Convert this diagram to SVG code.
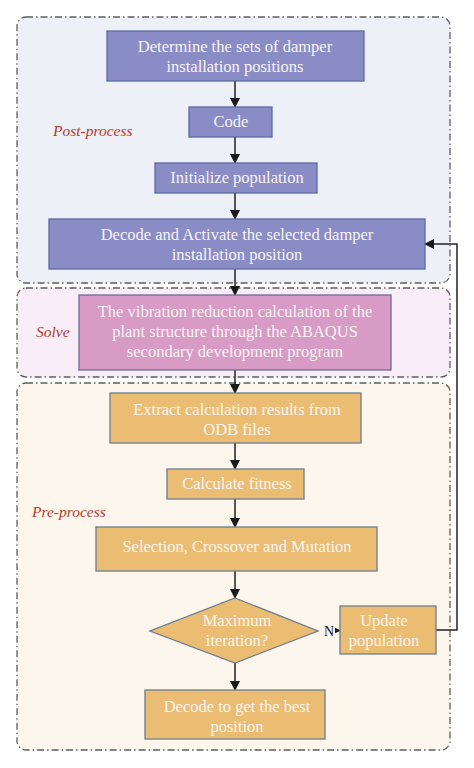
<svg xmlns="http://www.w3.org/2000/svg" width="474" height="768" viewBox="0 0 474 768">
<defs>
<style>
.region{stroke:#5e5e5e;stroke-width:1.3;stroke-dasharray:7 3 1.5 3;}
.purple{fill:#8a8cc6;stroke:#5b6aa3;stroke-width:1.3;}
.pink{fill:#d79bc5;stroke:#6e6b9a;stroke-width:1.3;}
.orange{fill:#ebbd72;stroke:#6c7d8e;stroke-width:1.3;}
.t{font-family:"Liberation Serif","Times New Roman",serif;font-size:16.5px;fill:#f7f4f2;text-anchor:middle;}
.lab{font-family:"Liberation Serif","Times New Roman",serif;font-size:15.5px;font-style:italic;fill:#b33a2c;}
.conn{stroke:#222;stroke-width:1.5;fill:none;}
</style>
<marker id="ah" markerWidth="10" markerHeight="10" refX="9" refY="5" orient="auto" markerUnits="userSpaceOnUse">
<path d="M0,0 L10,5 L0,10 z" fill="#1a1a1a"/>
</marker>
<marker id="ahs" markerWidth="6" markerHeight="6" refX="5.5" refY="3" orient="auto" markerUnits="userSpaceOnUse">
<path d="M0,0 L6,3 L0,6 z" fill="#1a1a1a"/>
</marker>
</defs>
<rect width="474" height="768" fill="#ffffff"/>
<g id="regions">
<rect class="region" x="17" y="17" width="433" height="266" rx="9" fill="#eef0f8"/>
<rect class="region" x="17" y="288" width="433" height="89" rx="9" fill="#f9eef7"/>
<rect class="region" x="17" y="383" width="433" height="367" rx="9" fill="#fcf6ec"/>
</g>
<g id="labels">
<text class="lab" x="53" y="136">Post-process</text>
<text class="lab" x="36" y="337">Solve</text>
<text class="lab" x="32" y="517">Pre-process</text>
</g>
<g id="connectors">
<line class="conn" x1="235" y1="81" x2="235" y2="107" marker-end="url(#ah)"/>
<line class="conn" x1="235" y1="137" x2="235" y2="163" marker-end="url(#ah)"/>
<line class="conn" x1="235" y1="193" x2="235" y2="219" marker-end="url(#ah)"/>
<line class="conn" x1="235" y1="269" x2="235" y2="295" marker-end="url(#ah)"/>
<line class="conn" x1="235" y1="370" x2="235" y2="393" marker-end="url(#ah)"/>
<line class="conn" x1="235" y1="443" x2="235" y2="469" marker-end="url(#ah)"/>
<line class="conn" x1="235" y1="499" x2="235" y2="527" marker-end="url(#ah)"/>
<line class="conn" x1="235" y1="571" x2="235" y2="598" marker-end="url(#ah)"/>
<line class="conn" x1="235" y1="663" x2="235" y2="690" marker-end="url(#ah)"/>
<line class="conn" x1="335" y1="630.5" x2="340" y2="630.5" stroke-width="1" marker-end="url(#ahs)"/>
<polyline class="conn" stroke="#444" points="436,630 457,630 457,244 425,244" marker-end="url(#ah)"/>
<text x="329" y="636" font-family="Liberation Serif,serif" font-size="14" fill="#111" text-anchor="middle">N</text>
</g>
<g id="n1"><rect class="purple" x="107" y="31" width="257" height="50"/><text class="t" x="235" y="52">Determine the sets of damper</text><text class="t" x="235" y="72">installation positions</text></g>
<g id="n2"><rect class="purple" x="189" y="107" width="83" height="30"/><text class="t" x="231" y="127">Code</text></g>
<g id="n3"><rect class="purple" x="155" y="163" width="162" height="30"/><text class="t" x="237" y="183">Initialize population</text></g>
<g id="n4"><rect class="purple" x="49" y="219" width="376" height="50"/><text class="t" x="237" y="240">Decode and Activate the selected damper</text><text class="t" x="237" y="260">installation position</text></g>
<g id="n5"><rect class="pink" x="79" y="295" width="312" height="75"/><text class="t" x="235" y="317">The vibration reduction calculation of the</text><text class="t" x="235" y="337">plant structure through the ABAQUS</text><text class="t" x="235" y="357">secondary development program</text></g>
<g id="n6"><rect class="orange" x="110" y="393" width="251" height="50"/><text class="t" x="237" y="415">Extract calculation results from</text><text class="t" x="237" y="435">ODB files</text></g>
<g id="n7"><rect class="orange" x="167" y="469" width="137" height="30"/><text class="t" x="237" y="489">Calculate fitness</text></g>
<g id="n8"><rect class="orange" x="96" y="527" width="281" height="44"/><text class="t" x="237" y="552">Selection, Crossover and Mutation</text></g>
<g id="n9"><polygon class="orange" points="235,598 318,631 235,663 150,631"/><text class="t" x="237" y="626">Maximum</text><text class="t" x="237" y="646">iteration?</text></g>
<g id="n10"><rect class="orange" x="340" y="606" width="96" height="48"/><text class="t" x="384" y="626">Update</text><text class="t" x="384" y="646">population</text></g>
<g id="n11"><rect class="orange" x="145" y="690" width="180" height="49"/><text class="t" x="237" y="712">Decode to get the best</text><text class="t" x="237" y="732">position</text></g>
</svg>
